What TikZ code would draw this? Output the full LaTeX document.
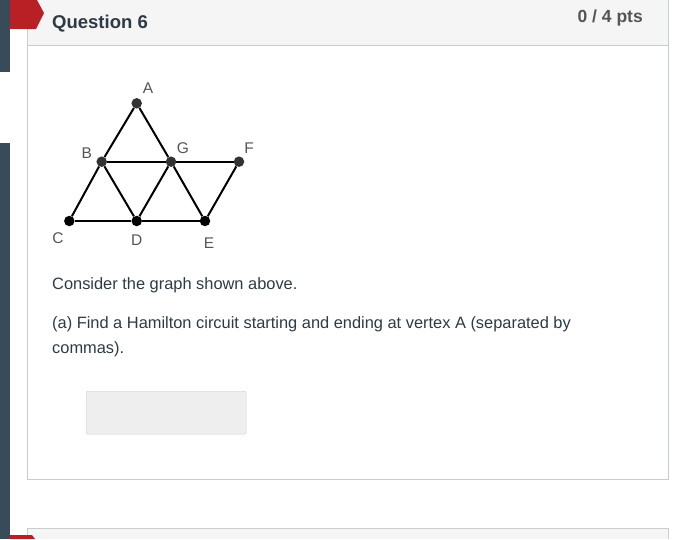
\documentclass[tikz,border=0pt]{standalone}
\usepackage{fontspec}
\setmainfont{Liberation Sans}
\definecolor{canvasdark}{HTML}{394B58}
\definecolor{headgrey}{HTML}{F5F5F5}
\definecolor{rulegrey}{HTML}{C7CDD1}
\definecolor{tabred}{HTML}{B92025}
\definecolor{txt}{HTML}{2D3B45}
\definecolor{ptsgrey}{HTML}{555555}
\definecolor{boxfill}{HTML}{EEEEEE}

\begin{document}
\begin{tikzpicture}[x=1pt, y=-1pt,
	vertex/.style={circle, fill=black!80, inner sep=0pt, minimum size=10.5pt},
	vlabel/.style={text=ptsgrey, font=\fontsize{15.5}{18}\selectfont, inner sep=0pt},
	body/.style={text=txt, font=\fontsize{16.4}{25}\selectfont, inner sep=0pt, anchor=base west, align=left}]
	\useasboundingbox (0,0) rectangle (691,539);
	\fill[white] (0,0) rectangle (691,539);
	% side bar and panel
	\fill[canvasdark] (0,0) rectangle (10,72);
	\fill[canvasdark] (0,143) rectangle (10,539);
	\fill[headgrey] (27,0) rectangle (668,45);
	\draw[rulegrey] (27,0) -- (27,479) -- (668,479) -- (668,0);
	\draw[rulegrey] (27,45) -- (668,45);
	\fill[tabred] (10,0) -- (37,0) -- (44,13) -- (36,29) -- (10,29) -- cycle;
	\fill[headgrey] (27,528) rectangle (668,539);
	\draw[rulegrey] (27,539) -- (27,528) -- (668,528) -- (668,539);
	\fill[tabred] (10,535) -- (32,535) -- (35,539) -- (10,539) -- cycle;

	\node[text=txt, font=\fontsize{18.5}{22}\selectfont\bfseries, inner sep=0pt, anchor=base west] at (52,28) (title) {Question 6};
	\node[text=ptsgrey, font=\fontsize{17.5}{21}\selectfont\bfseries, inner sep=0pt, anchor=base east] at (643,22) (pts) {0 / 4 pts};

	\node[vertex] at (136.7,103.3) (A) {};
	\node[vertex] at (101.7,161.7) (B) {};
	\node[vertex] at (171,161.7) (G) {};
	\node[vertex] at (239,161.7) (F) {};
	\node[vertex, fill=black] at (69.3,221) (C) {};
	\node[vertex, fill=black] at (136.7,221) (D) {};
	\node[vertex, fill=black] at (205,221) (E) {};
	\node[vlabel] at (148,88) (lA) {A};
	\node[vlabel] at (86.7,153) (lB) {B};
	\node[vlabel] at (183,148) (lG) {G};
	\node[vlabel] at (249,148) (lF) {F};
	\node[vlabel] at (58,238) (lC) {C};
	\node[vlabel] at (136.7,240) (lD) {D};
	\node[vlabel] at (209,243) (lE) {E};

	\draw[line width=2pt] (A) edge (B) (A) edge (G) (B) edge (G) (G) edge (F)
		(B) edge (C) (B) edge (D) (G) edge (D) (G) edge (E) (F) edge (E)
		(C) edge (D) (D) edge (E);

	\node[body] at (52,289) (consider) {Consider the graph shown above.};
	% the base of a two-line node sits on its last line
	\node[body] at (52,353) (parta) {(a) Find a Hamilton circuit starting and ending at vertex A (separated by\\commas).};
	\node[draw=black!20, fill=boxfill, rounded corners=2pt, minimum width=160pt, minimum height=43pt, anchor=north west] at (86,391) (answer) {};
\end{tikzpicture}
\end{document}
